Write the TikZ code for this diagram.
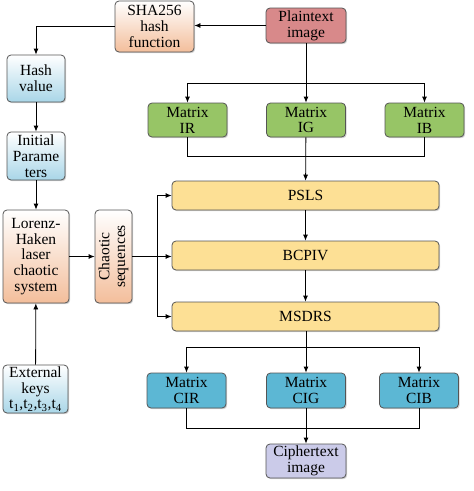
\documentclass[tikz,border=0pt]{standalone}
\usepackage{fontspec}
\setmainfont{Liberation Serif}
\usepackage{tikz}
\usetikzlibrary{arrows.meta,calc,shadows}
\definecolor{BoxPeach}{HTML}{F3BE9B}
\definecolor{BoxSky}{HTML}{A9D6E8}
\definecolor{PlainRed}{HTML}{D8898A}
\definecolor{MatGreen}{HTML}{97C566}
\definecolor{StepYellow}{HTML}{FDE095}
\definecolor{MatBlue}{HTML}{5CB7D4}
\definecolor{CipherLilac}{HTML}{CBCBE9}
\definecolor{EdgeGray}{HTML}{555555}

\tikzset{
  box/.style={draw=EdgeGray,line width=0.8pt,rounded corners=4pt,align=center,
    inner sep=0.5pt,font=\fontsize{15.5}{15.8}\selectfont,
    drop shadow={shadow xshift=1.2pt,shadow yshift=-1.2pt,opacity=0.35}},
  peachbox/.style={box,top color=white,bottom color=BoxPeach},
  skybox/.style={box,top color=white,bottom color=BoxSky},
  arr/.style={-{Latex[length=6pt,width=5pt]},line width=0.8pt},
  wire/.style={line width=0.8pt}
}

\begin{document}
\begin{tikzpicture}[x=1pt,y=-1pt]
    \useasboundingbox (0,0) rectangle (474,491);
    % left column
    \node[peachbox,minimum width=79pt,minimum height=51pt] (sha) at (154.5,26.5) {SHA256\\hash\\function};
    \node[box,fill=PlainRed,minimum width=80pt,minimum height=35pt] (plain) at (306,25.5) {Plaintext\\image};
    \node[skybox,minimum width=58pt,minimum height=47pt] (hash) at (36,78.5) {Hash\\value};
    \node[skybox,minimum width=58pt,minimum height=48pt] (init) at (36,156) {Initial\\Parame\\ters};
    \node[peachbox,minimum width=66pt,minimum height=93pt] (lorenz) at (36,256.5) {Lorenz-\\Haken\\laser\\chaotic\\system};
    \node[peachbox,rotate=90,minimum width=93pt,minimum height=37pt] (chaos) at (113.5,256.5) {Chaotic\\sequences};
    \node[skybox,minimum width=65pt,minimum height=48pt] (keys) at (35.5,389) {External\\keys\\t\textsubscript{1},t\textsubscript{2},t\textsubscript{3},t\textsubscript{4}};
    % matrices of the plain image
    \foreach \x/\name/\lbl in {187.5/ir/IR,306/ig/IG,424.5/ib/IB} {
     \node[box,fill=MatGreen,minimum width=79pt,minimum height=34pt] (\name) at (\x,120) {Matrix\\\lbl};
    }
    % processing steps
    \foreach \y/\name/\lbl in {195.5/psls/PSLS,255.5/bcpiv/BCPIV,316.5/msdrs/MSDRS} {
     \node[box,fill=StepYellow,minimum width=267pt,minimum height=29pt] (\name) at (305.5,\y) {\lbl};
    }
    % matrices of the cipher image
    \foreach \x/\name/\lbl in {186.5/cir/CIR,306/cig/CIG,419/cib/CIB} {
     \node[box,fill=MatBlue,minimum width=79pt,minimum height=35pt] (\name) at (\x,390.5) {Matrix\\\lbl};
    }
    \node[box,fill=CipherLilac,minimum width=80pt,minimum height=34pt] (cipher) at (306,461) {Ciphertext\\image};

    \coordinate (railA) at (0,83);
    \coordinate (railB) at (0,156);
    \coordinate (railC) at (0,347);
    \coordinate (railD) at (0,428);
    \coordinate (split) at (157,256.5);

    \draw[arr] (plain.west) -- (plain.west -| sha.east);
    \draw[arr] (sha.west) -| (hash.north);
    \draw[arr] (hash) -- (init);
    \draw[arr] (init) -- (lorenz);
    \draw[arr] (keys) -- (lorenz);
    \draw[arr] (lorenz) -- (chaos);
    \draw[wire] (chaos) -- (split);
    \draw[arr] (split) |- (psls.west);
    \draw[arr] (split) -- (split -| bcpiv.west);
    \draw[arr] (split) |- (msdrs.west);

    \draw[arr] (plain) -- (ig);
    \draw[arr] (ig.north |- railA) -| (ir.north);
    \draw[arr] (ig.north |- railA) -| (ib.north);
    \draw[wire] (ir.south) |- (ig.south |- railB);
    \draw[wire] (ib.south) |- (ig.south |- railB);
    \draw[arr] (ig) -- (psls);
    \draw[arr] (psls) -- (bcpiv);
    \draw[arr] (bcpiv) -- (msdrs);

    \draw[arr] (msdrs.south -| cig.north) -- (cig);
    \draw[arr] (cig.north |- railC) -| (cir.north);
    \draw[arr] (cig.north |- railC) -| (cib.north);
    \draw[wire] (cir.south) |- (cig.south |- railD);
    \draw[wire] (cib.south) |- (cig.south |- railD);
    \draw[arr] (cig) -- (cipher);
\end{tikzpicture}
\end{document}
